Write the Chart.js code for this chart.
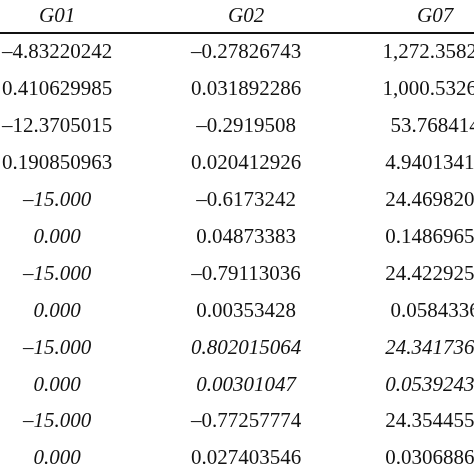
<!DOCTYPE html>
<html><head><meta charset="utf-8">
<script src="https://cdn.jsdelivr.net/npm/chart.js@4/dist/chart.umd.min.js"></script>
<style>html,body{margin:0;padding:0;background:#fff;overflow:hidden}#w{width:474px;height:474px}</style>
</head><body><div id="w"><canvas id="c"></canvas></div>
<script>
const headers = ["G01", "G02", "G07"];
const colG01 = ["–4.83220242","0.410629985","–12.3705015","0.190850963","–15.000","0.000","–15.000","0.000","–15.000","0.000","–15.000","0.000"];
const colG02 = ["–0.27826743","0.031892286","–0.2919508","0.020412926","–0.6173242","0.04873383","–0.79113036","0.00353428","0.802015064","0.00301047","–0.77257774","0.027403546"];
const colG07 = ["1,272.35824","1,000.53263","53.768414","4.94013412","24.4698202","0.14869652","24.4229254","0.0584336","24.3417364","0.05392431","24.3544559","0.03068862"];
const italG01 = [0,0,0,0,1,1,1,1,1,1,1,1];
const italG02 = [0,0,0,0,0,0,0,0,1,1,0,0];
const italG07 = [0,0,0,0,0,0,0,0,1,1,0,0];
const columns = [colG01, colG02, colG07];
const italics = [italG01, italG02, italG07];

const cells = [];
columns.forEach((col, ci) => col.forEach((v, ri) => cells.push({x: ci, y: ri + 1, t: v, it: italics[ci][ri]})));
headers.forEach((h, ci) => cells.push({x: ci, y: 0, t: h, it: 1}));

const tablePlugin = {
  id: 'tbl',
  afterDatasetsDraw(chart) {
    const ctx = chart.ctx, xs = chart.scales.x, ys = chart.scales.y;
    ctx.save();
    ctx.fillStyle = '#111';
    ctx.textAlign = 'center';
    ctx.textBaseline = 'middle';
    chart.data.datasets[0].data.forEach(p => {
      ctx.font = (p.it ? 'italic ' : '') + '21px "Liberation Serif", "Times New Roman", serif';
      ctx.fillText(p.t, xs.getPixelForValue(p.x), ys.getPixelForValue(p.y));
    });
    const ly = ys.getPixelForValue(0.46);
    ctx.strokeStyle = '#111'; ctx.lineWidth = 2;
    ctx.beginPath(); ctx.moveTo(0, ly); ctx.lineTo(474, ly); ctx.stroke();
    ctx.restore();
  }
};

new Chart(document.getElementById('c'), {
  type: 'scatter',
  data: { datasets: [{ data: cells, pointRadius: 0, pointHoverRadius: 0 }] },
  options: {
    responsive: true, maintainAspectRatio: false, animation: false,
    layout: { padding: 0 },
    plugins: { legend: { display: false }, tooltip: { enabled: false } },
    scales: {
      x: { type: 'linear', display: false, min: -0.302, max: 2.206 },
      y: { type: 'linear', display: false, reverse: true, min: -0.434, max: 12.41 }
    }
  },
  plugins: [tablePlugin]
});
</script></body></html>
